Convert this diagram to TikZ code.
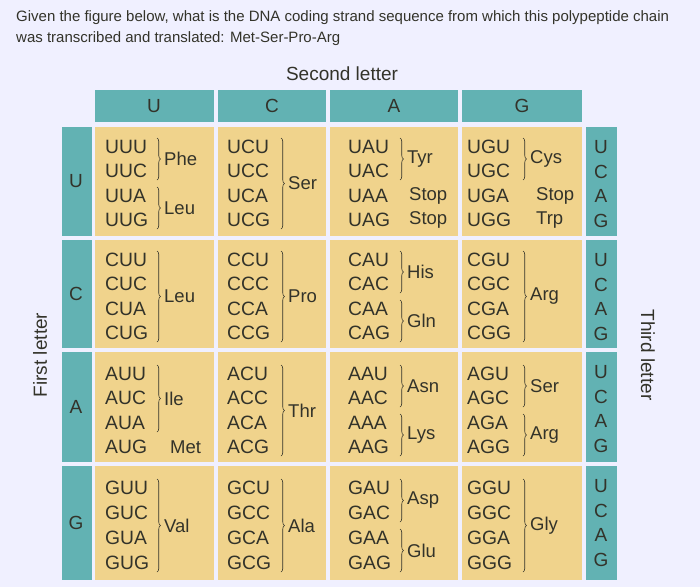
\documentclass[tikz,border=0pt]{standalone}
\usepackage{fontspec}
\setmainfont{Liberation Sans}
\usetikzlibrary{decorations.pathreplacing}
\definecolor{teal}{HTML}{62B2B3}
\definecolor{cellyel}{HTML}{F0D38C}
\definecolor{ink}{HTML}{33332A}
\tikzset{
 codon/.style={anchor=west,inner sep=0pt,font=\fontsize{19.3}{20}\selectfont,text=ink},
 aa/.style={anchor=west,inner sep=0pt,font=\fontsize{18.5}{20}\selectfont,text=ink},
 hdr/.style={inner sep=0pt,font=\fontsize{19}{21}\selectfont,text=ink},
 brc/.style={decorate,decoration={brace,amplitude=3.5pt},draw=ink,line width=0.6pt},
 tealbox/.style={fill=teal,draw=none},
 cellbox/.style={fill=cellyel,draw=none}
}
\newcounter{nn}
\newcommand{\cod}[3]{\stepcounter{nn}\node[codon] (c\thenn) at (#1,#2) {#3};}
\newcommand{\brk}[4]{\stepcounter{nn}\coordinate (bt\thenn) at (#1,#2-9);\coordinate (bb\thenn) at (#1,#3+9);
 \draw[brc] (bt\thenn) -- (bb\thenn);
 \node[aa] (l\thenn) at (#1+7,{(#2+#3)/2}) {#4};}
\newcommand{\lab}[3]{\stepcounter{nn}\node[aa] (s\thenn) at (#1,#2) {#3};}
\begin{document}
\begin{tikzpicture}[x=1pt,y=-1pt]
\useasboundingbox (0,0) rectangle (700,587);
\fill[white!94!blue] (0,0) rectangle (700,587);
\node[anchor=west,inner sep=0pt,font=\fontsize{15}{16}\selectfont,text=ink] (t1) at (16,18) {Given the figure below, what is the DNA coding strand sequence from which this polypeptide chain};
\node[anchor=west,inner sep=0pt,font=\fontsize{15}{16}\selectfont,text=ink] (t2) at (16,39) {was transcribed and translated: Met-Ser-Pro-Arg};
\node[hdr] (sec) at (342,74) {Second letter};
\fill[tealbox] (95,90) rectangle (214,122);
\fill[tealbox] (218,90) rectangle (326,122);
\fill[tealbox] (330,90) rectangle (458,122);
\fill[tealbox] (462,90) rectangle (582,122);
\node[hdr] (hU) at (154,106) {U};
\node[hdr] (hC) at (272,106) {C};
\node[hdr] (hA) at (394,106) {A};
\node[hdr] (hG) at (522,106) {G};
\node[hdr,rotate=90] (fl) at (40,355) {First letter};
\node[hdr,rotate=-90] (tl) at (648,355) {Third letter};
\foreach \t/\b/\L in {127/236/U,240/348/C,352/462/A,466/580/G}{
 \fill[tealbox] (62,\t) rectangle (92,\b);
 \fill[cellbox] (95,\t) rectangle (214,\b);
 \fill[cellbox] (218,\t) rectangle (326,\b);
 \fill[cellbox] (330,\t) rectangle (458,\b);
 \fill[cellbox] (462,\t) rectangle (582,\b);
 \fill[tealbox] (586,\t) rectangle (617,\b);
 \node[hdr] (f\L) at (76,{(\t+\b)/2}) {\L};
 \foreach \k/\z in {0/U,1/C,2/A,3/G}{
  \node[hdr] (th\L\z) at (601,{\t+20+24.5*\k}) {\z};}
}
% Row U
\cod{105}{147}{UUU}\cod{105}{171}{UUC}\cod{105}{196}{UUA}\cod{105}{220}{UUG}
\brk{157}{147}{171}{Phe}\brk{157}{196}{220}{Leu}
\cod{227}{147}{UCU}\cod{227}{171}{UCC}\cod{227}{196}{UCA}\cod{227}{220}{UCG}
\brk{281}{147}{220}{Ser}
\cod{348}{147}{UAU}\cod{348}{171}{UAC}\cod{348}{196}{UAA}\cod{348}{220}{UAG}
\brk{400}{147}{171}{Tyr}\lab{409}{196}{Stop}\lab{409}{220}{Stop}
\cod{467}{147}{UGU}\cod{467}{171}{UGC}\cod{467}{196}{UGA}\cod{467}{220}{UGG}
\brk{523}{147}{171}{Cys}\lab{536}{196}{Stop}\lab{536}{220}{Trp}
% Row C
\cod{105}{260}{CUU}\cod{105}{284}{CUC}\cod{105}{309}{CUA}\cod{105}{333}{CUG}
\brk{157}{260}{333}{Leu}
\cod{227}{260}{CCU}\cod{227}{284}{CCC}\cod{227}{309}{CCA}\cod{227}{333}{CCG}
\brk{281}{260}{333}{Pro}
\cod{348}{260}{CAU}\cod{348}{284}{CAC}\cod{348}{309}{CAA}\cod{348}{333}{CAG}
\brk{400}{260}{284}{His}\brk{400}{309}{333}{Gln}
\cod{467}{260}{CGU}\cod{467}{284}{CGC}\cod{467}{309}{CGA}\cod{467}{333}{CGG}
\brk{523}{260}{333}{Arg}
% Row A
\cod{105}{374}{AUU}\cod{105}{398}{AUC}\cod{105}{423}{AUA}\cod{105}{447}{AUG}
\brk{157}{374}{423}{Ile}\lab{170}{447}{Met}
\cod{227}{374}{ACU}\cod{227}{398}{ACC}\cod{227}{423}{ACA}\cod{227}{447}{ACG}
\brk{281}{374}{447}{Thr}
\cod{348}{374}{AAU}\cod{348}{398}{AAC}\cod{348}{423}{AAA}\cod{348}{447}{AAG}
\brk{400}{374}{398}{Asn}\brk{400}{423}{447}{Lys}
\cod{467}{374}{AGU}\cod{467}{398}{AGC}\cod{467}{423}{AGA}\cod{467}{447}{AGG}
\brk{523}{374}{398}{Ser}\brk{523}{423}{447}{Arg}
% Row G
\cod{105}{488}{GUU}\cod{105}{513}{GUC}\cod{105}{538}{GUA}\cod{105}{563}{GUG}
\brk{157}{488}{563}{Val}
\cod{227}{488}{GCU}\cod{227}{513}{GCC}\cod{227}{538}{GCA}\cod{227}{563}{GCG}
\brk{281}{488}{563}{Ala}
\cod{348}{488}{GAU}\cod{348}{513}{GAC}\cod{348}{538}{GAA}\cod{348}{563}{GAG}
\brk{400}{488}{513}{Asp}\brk{400}{538}{563}{Glu}
\cod{467}{488}{GGU}\cod{467}{513}{GGC}\cod{467}{538}{GGA}\cod{467}{563}{GGG}
\brk{523}{488}{563}{Gly}
\end{tikzpicture}
\end{document}
